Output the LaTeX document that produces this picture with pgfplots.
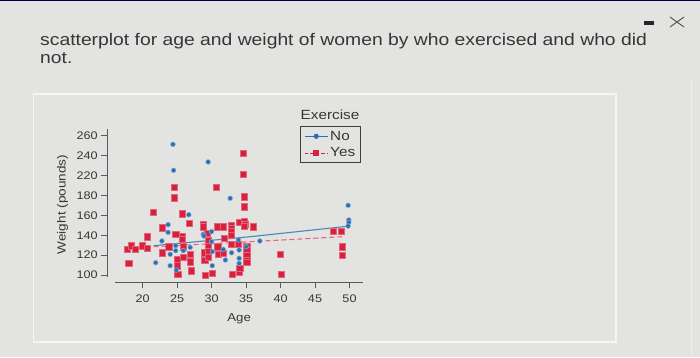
\documentclass[border=0pt]{standalone}
\usepackage{pgfplots}
\pgfplotsset{compat=1.18}
\usepackage{fontspec}
\setmainfont{Liberation Sans}[FakeStretch=1.15]
\definecolor{bg}{HTML}{E3E3E1}
\definecolor{boxline}{HTML}{F5F5F4}
\definecolor{noblue}{HTML}{2C6FB2}
\definecolor{yesred}{HTML}{D8213F}
\definecolor{txt}{HTML}{363636}
\definecolor{axgray}{HTML}{5A5A5A}
\definecolor{fitblue}{HTML}{4F86B6}
\definecolor{fitred}{HTML}{E0667E}

\pgfplotstableread{
x y
17.8 126.1
18.3 129.5
18.9 126.1
20.0 129.5
20.7 127.1
18.0 111.7
20.7 138.5
21.6 163.3
22.8 147.6
22.9 122.4
23.8 128.5
24.6 187.8
24.6 177.7
24.8 140.9
25.0 116.1
25.0 109.4
25.1 101.0
25.7 161.6
25.8 138.5
25.8 135.8
25.9 128.5
25.9 117.8
26.8 151.9
26.9 121.1
26.9 113.4
27.1 104.4
28.8 151.3
28.8 148.6
28.9 122.4
29.0 115.1
29.1 100.0
29.4 141.9
29.5 135.2
29.5 129.1
29.5 123.5
29.5 117.8
30.1 101.7
30.7 187.8
30.9 148.6
30.9 128.5
31.0 120.8
31.7 148.6
31.8 136.9
31.7 121.8
32.8 150.3
32.8 146.9
32.8 143.6
32.8 140.2
32.8 131.2
33.0 101.0
34.0 153.3
33.9 131.2
34.0 103.4
34.1 106.7
34.6 222.3
34.6 201.5
34.7 178.7
34.7 168.7
34.7 153.6
34.9 151.3
34.7 149.2
35.1 128.5
35.1 124.5
35.1 120.1
35.1 115.1
35.1 112.7
36.0 148.6
40.0 121.1
40.1 101.0
47.7 143.6
48.8 144.2
48.9 128.5
48.9 119.8
}\yesdata

\pgfplotstableread{
x y
24.4 231.3
24.5 205.2
29.5 213.6
32.7 177.1
26.7 160.6
23.7 150.6
23.7 142.9
28.8 140.9
28.9 139.2
22.8 134.2
21.9 112.4
24.0 109.4
24.0 120.8
24.8 129.5
24.8 124.5
24.9 105.0
25.9 124.5
26.9 127.8
30.0 143.6
30.0 133.5
30.1 123.5
30.1 109.4
31.7 125.8
32.0 115.1
32.9 122.4
33.9 135.2
34.0 125.1
34.0 116.8
34.0 111.7
35.0 128.5
37.0 134.2
49.8 170.0
49.9 155.3
49.9 152.9
49.8 149.2
}\nodata

\begin{document}
\begin{tikzpicture}[x=1pt,y=1pt]
\useasboundingbox (0,0) rectangle (700,357);
\fill[bg] (0,0) rectangle (700,357);
\fill[black!75!blue] (0,355.6) rectangle (700,357);
\draw[boxline, line width=1.5pt] (33.5,263) rectangle (616,15);
\draw[boxline!60!bg, line width=1pt] (691,0) -- (691,277);
\node[anchor=base west, inner sep=0pt, text=txt, font=\fontsize{16.8}{19}\selectfont] at (40,312) {scatterplot for age and weight of women by who exercised and who did};
\node[anchor=base west, inner sep=0pt, text=txt, font=\fontsize{16.8}{19}\selectfont] at (40,293.5) {not.};
\fill[black!85] (644,332) rectangle (654,336);
\draw[black!70, line width=0.9pt] (670,340) -- (684,330) (670,330) -- (684,340);

\begin{axis}[
  at={(115pt,74.3pt)}, anchor=south west,
  scale only axis, width=248.3pt, height=153.4pt,
  xmin=16, xmax=52, ymin=92.3, ymax=246.4,
  axis x line*=bottom, axis y line*=left,
  axis y line shift=8pt,
  axis line style={-, axgray, line width=0.8pt},
  y axis line style={shorten <=6pt},
  xtick={20,25,...,50},
  ytick={100,120,...,240},
  yticklabels={100,120,140,160,180,220,240,260},
  tick align=outside,
  major tick length=5.7pt,
  tick style={axgray, line width=0.8pt},
  ticklabel style={font=\fontsize{11}{12}\selectfont, text=txt},
  xticklabel style={yshift=-3pt},
  /pgf/number format/assume math mode=true,
  xlabel={Age}, ylabel={Weight (pounds)},
  xlabel style={at={(axis description cs:0.5,-0.238)}, anchor=center, font=\fontsize{11.5}{12}\selectfont, text=txt},
  ylabel style={at={(axis description cs:-0.2114,0.51)}, anchor=center, font=\fontsize{11.8}{12}\selectfont, text=txt},
  clip=false,
  legend style={at={(0.991,1.021)}, anchor=north east, draw=axgray!70!black, line width=0.8pt, fill=none,
    font=\fontsize{13.3}{14}\selectfont, text=txt, inner xsep=3.5pt, inner ysep=2.5pt, row sep=2pt, cells={anchor=west}},
  legend image code/.code={\draw[mark repeat=2,mark phase=2,#1] plot coordinates {(0pt,0pt) (11.5pt,0pt) (23pt,0pt)};},
]
\addplot[only marks, mark=square*, mark size=3.1pt, mark options={fill=yesred, draw=yesred!70!white, line width=0.5pt}, forget plot] table[x=x,y=y] {\yesdata};
\addplot[only marks, mark=*, mark size=2.4pt, mark options={fill=noblue, draw=noblue!55!white, line width=0.5pt}, forget plot] table[x=x,y=y] {\nodata};
\addplot[fitblue, line width=1.1pt, forget plot] coordinates {(21.6,129.5) (35.6,138.5) (49.7,149.0)};
\addplot[fitred, line width=1.1pt, dash pattern=on 5pt off 3pt, forget plot] coordinates {(21.6,128.5) (37,134) (48.9,138.5)};
\addlegendimage{noblue, line width=0.9pt, mark=*, mark size=2.1pt, mark options={solid, fill=noblue}}
\addlegendentry{No}
\addlegendimage{yesred, line width=0.9pt, dash pattern=on 3.5pt off 2pt, mark=square*, mark size=2.5pt, mark options={solid, fill=yesred}}
\addlegendentry{Yes}
\node[font=\fontsize{13.3}{14}\selectfont, text=txt] at (rel axis cs:0.866,1.093) {Exercise};
\end{axis}
\end{tikzpicture}
\end{document}
